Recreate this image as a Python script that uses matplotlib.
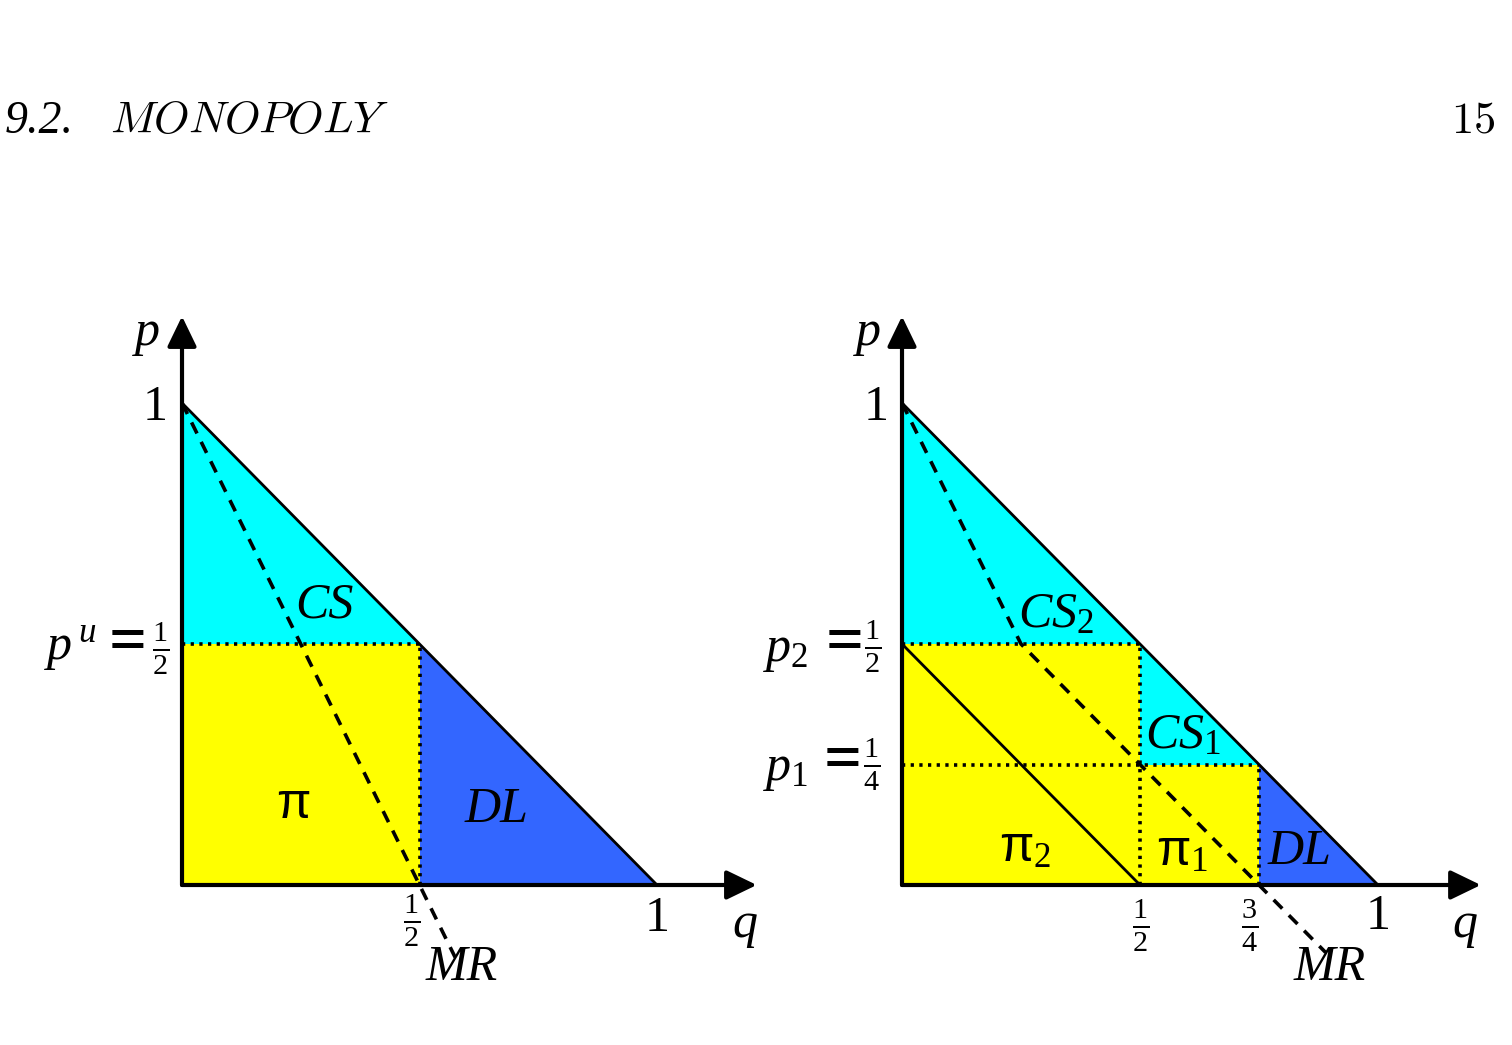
import numpy as np
import matplotlib
matplotlib.use("Agg")
import matplotlib.pyplot as plt

plt.rcParams['mathtext.fontset'] = 'custom'
plt.rcParams['mathtext.rm'] = 'Liberation Serif'
plt.rcParams['mathtext.it'] = 'Liberation Serif:italic'
plt.rcParams['mathtext.sf'] = 'Liberation Sans'
plt.rcParams['font.family'] = ['Liberation Serif', 'DejaVu Serif']

# demand p = 1 - q
q_dem = [0.0, 1.0]
p_dem = [1.0, 0.0]

# left: uniform monopoly price
q_u, p_u = 0.5, 0.5
q_mr = [0.0, 0.575]
p_mr = [1.0, -0.15]

# right: two-period pricing
q_2, p_2 = 0.5, 0.5
q_1, p_1 = 0.75, 0.25
q_mr2 = [0.0, 0.25, 0.89]
p_mr2 = [1.0, 0.5, -0.14]
q_res = [0.0, 0.5]
p_res = [0.5, 0.0]

CYAN = '#00FFFF'
YELLOW = '#FFFF00'
BLUE = '#3366FF'

fig = plt.figure(figsize=(15.12, 10.45), dpi=100)
axL = fig.add_axes([0.01042, 0.0378, 0.50265, 0.6688])
axR = fig.add_axes([0.48638, 0.0378, 0.50370, 0.6688])

dot = (0, (0.9, 1.5))
dash = (0, (3.4, 2.6))
big = 36


def axes_arrows(ax, xtip, ytip):
    st = dict(arrowstyle='-|>,head_length=0.62,head_width=0.3', lw=3.0,
              color='k', shrinkA=0, shrinkB=0, mutation_scale=30)
    ax.annotate('', xy=(xtip, 0), xytext=(0, 0), arrowprops=st, zorder=6)
    ax.annotate('', xy=(0, ytip), xytext=(0, 0), arrowprops=st, zorder=6)


def frac(ax, x, y, s):
    ax.text(x, y, s, fontsize=31, ha='center', va='center')


def eq(ax, x, y):
    ax.text(x, y, '=', fontsize=48, fontweight='bold', ha='center', va='center')


for ax in (axL, axR):
    ax.set_xlim(-0.35, 1.25)
    ax.set_ylim(-0.25, 1.2)
    ax.axis('off')

# ---------- left panel ----------
ax = axL
ax.fill([0, 0, q_u], [p_dem[0], p_u, p_u], color=CYAN, lw=0, zorder=1)
ax.fill([0, q_u, q_u, 0], [0, 0, p_u, p_u], color=YELLOW, lw=0, zorder=1)
ax.fill([q_u, q_u, q_dem[1]], [p_u, 0, 0], color=BLUE, lw=0, zorder=1)
ax.plot(q_dem, p_dem, color='k', lw=2.0, zorder=3)
ax.plot(q_mr, p_mr, color='k', lw=2.6, ls=dash, zorder=3)
ax.plot([0, q_u], [p_u, p_u], color='k', lw=2.6, ls=dot, zorder=3)
ax.plot([q_u, q_u], [0, p_u], color='k', lw=2.6, ls=dot, zorder=3)
axes_arrows(ax, 1.21, 1.18)

ax.text(-0.072, 1.145, 'p', fontsize=big, style='italic', ha='center', va='center')
ax.text(-0.057, 0.99, '1', fontsize=big, ha='center', va='center')
ax.text(-0.235, 0.49, r'$p^{\,u}$', fontsize=big, ha='center', va='center')
eq(ax, -0.114, 0.50)
frac(ax, -0.046, 0.49, r'$\frac{1}{2}$')
ax.text(0.30, 0.58, 'CS', fontsize=big, style='italic', ha='center', va='center')
ax.text(0.234, 0.166, 'π', fontsize=big, family='Liberation Sans', ha='center', va='center')
ax.text(0.663, 0.156, 'DL', fontsize=big, style='italic', ha='center', va='center')
frac(ax, 0.484, -0.075, r'$\frac{1}{2}$')
ax.text(1.0, -0.07, '1', fontsize=big, ha='center', va='center')
ax.text(1.185, -0.083, 'q', fontsize=big, style='italic', ha='center', va='center')
ax.text(0.589, -0.172, 'MR', fontsize=big, style='italic', ha='center', va='center')

# ---------- right panel ----------
ax = axR
ax.fill([0, 0, q_2], [p_dem[0], p_2, p_2], color=CYAN, lw=0, zorder=1)
ax.fill([0, q_2, q_2, 0], [0, 0, p_2, p_2], color=YELLOW, lw=0, zorder=1)
ax.fill([q_2, q_2, q_1], [p_2, p_1, p_1], color=CYAN, lw=0, zorder=1)
ax.fill([q_2, q_1, q_1, q_2], [0, 0, p_1, p_1], color=YELLOW, lw=0, zorder=1)
ax.fill([q_1, q_1, q_dem[1]], [p_1, 0, 0], color=BLUE, lw=0, zorder=1)
ax.plot(q_dem, p_dem, color='k', lw=2.0, zorder=3)
ax.plot(q_res, p_res, color='k', lw=2.0, zorder=3)
ax.plot(q_mr2, p_mr2, color='k', lw=2.6, ls=dash, zorder=3)
ax.plot([0, q_2], [p_2, p_2], color='k', lw=2.6, ls=dot, zorder=3)
ax.plot([0, q_1], [p_1, p_1], color='k', lw=2.6, ls=dot, zorder=3)
ax.plot([q_2, q_2], [0, p_2], color='k', lw=2.6, ls=dot, zorder=3)
ax.plot([q_1, q_1], [0, p_1], color='k', lw=2.6, ls=dot, zorder=3)
axes_arrows(ax, 1.216, 1.18)

ax.text(-0.071, 1.145, 'p', fontsize=big, style='italic', ha='center', va='center')
ax.text(-0.055, 0.99, '1', fontsize=big, ha='center', va='center')
ax.text(-0.245, 0.485, r'$p_2$', fontsize=big, ha='center', va='center')
eq(ax, -0.12, 0.50)
frac(ax, -0.061, 0.495, r'$\frac{1}{2}$')
ax.text(-0.245, 0.24, r'$p_1$', fontsize=big, ha='center', va='center')
eq(ax, -0.124, 0.255)
frac(ax, -0.063, 0.25, r'$\frac{1}{4}$')
ax.text(0.323, 0.56, r'$CS_2$', fontsize=big, ha='center', va='center')
ax.text(0.59, 0.31, r'$CS_1$', fontsize=big, ha='center', va='center')
ax.text(0.258, 0.075, r'$\mathsf{π}_2$', fontsize=big, ha='center', va='center')
ax.text(0.588, 0.066, r'$\mathsf{π}_1$', fontsize=big, ha='center', va='center')
ax.text(0.836, 0.068, 'DL', fontsize=big, style='italic', ha='center', va='center')
frac(ax, 0.502, -0.085, r'$\frac{1}{2}$')
frac(ax, 0.731, -0.085, r'$\frac{3}{4}$')
ax.text(1.0, -0.066, '1', fontsize=big, ha='center', va='center')
ax.text(1.183, -0.083, 'q', fontsize=big, style='italic', ha='center', va='center')
ax.text(0.899, -0.172, 'MR', fontsize=big, style='italic', ha='center', va='center')

# ---------- running head ----------
fig.text(5 / 1512, 1 - 133 / 1045, '9.2.', fontsize=33, style='italic',
         ha='left', va='baseline')
fig.text(110 / 1512, 1 - 133 / 1045, r'$\mathit{MONOPOLY}$',
         fontsize=32.5, math_fontfamily='cm', ha='left', va='baseline')
fig.text(1495 / 1512, 1 - 133 / 1045, r'$\mathrm{15}$',
         fontsize=32, math_fontfamily='cm', ha='right', va='baseline')

fig.savefig('out.png', dpi=100)
